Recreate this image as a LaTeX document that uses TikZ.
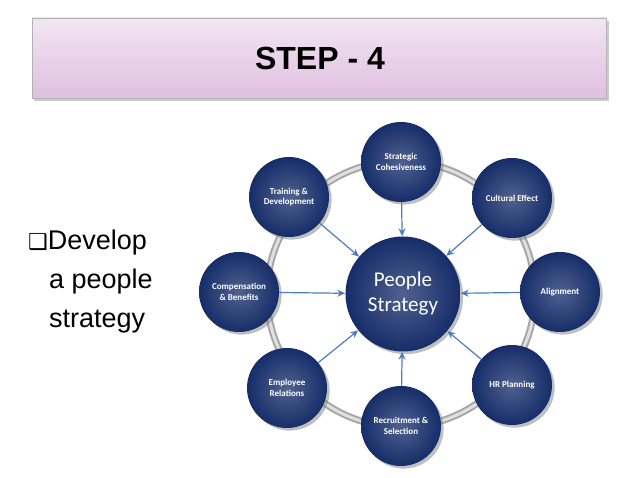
\documentclass[tikz,border=0pt]{standalone}
\usepackage{fontspec}
\setmainfont{Liberation Sans}
\newfontfamily\djv{DejaVu Sans}
\newfontfamily\carl{Carlito}
\usetikzlibrary{arrows.meta,shadows}
\definecolor{navy}{RGB}{22,45,105}
\definecolor{arr}{RGB}{80,125,185}
\begin{document}
\begin{tikzpicture}[x=1pt,y=-1pt,
 sat/.style={circle,minimum size=80pt,inner sep=0pt,inner color=navy!75!white,outer color=navy,text=white,font=\carl\bfseries\fontsize{9}{10.5}\selectfont,align=center,drop shadow},
 arrw/.style={arr,line width=1.2pt,-{Stealth[length=8pt,width=7pt]}}]
\useasboundingbox (0,0) rectangle (638,478);
\fill[white] (0,0) rectangle (638,478);
\fill[gray!40] (34,21) rectangle (609,101);
\shade[top color=white!90!violet, bottom color=violet!25, draw=gray!60] (32,18) rectangle (606,98);
\node[font=\bfseries\fontsize{32}{36}\selectfont] (t) at (320,58) {STEP - 4};
\node[anchor=north west,align=left,font=\fontsize{27}{39}\selectfont,inner sep=0pt] (b) at (28,230) {{\djv\fontsize{22}{39}\selectfont ❑}Develop\\\hspace*{21pt}a people\\\hspace*{21pt}strategy};
\draw[gray!70,line width=7pt] (401,294) ellipse (134 and 133);
\draw[gray!25,line width=3pt] (401,294) ellipse (134 and 133);
\node[sat,minimum size=115pt,font=\carl\fontsize{21}{25}\selectfont] (c) at (403,294) {People\\Strategy};
\node[sat] (s1) at (401,162) {Strategic\\Cohesiveness};
\node[sat] (s2) at (512,198) {Cultural Effect};
\node[sat] (s3) at (560,292) {Alignment};
\node[sat] (s4) at (512,385) {HR Planning};
\node[sat] (s5) at (401,426) {Recruitment \&\\Selection};
\node[sat] (s6) at (287,388) {Employee\\Relations};
\node[sat] (s7) at (239,292) {Compensation\\\& Benefits};
\node[sat] (s8) at (289,197) {Training \&\\Development};
\foreach \s in {s1,s2,s3,s4,s5,s6,s7,s8}{\draw[arrw] (\s) -- (c);}
\end{tikzpicture}
\end{document}
